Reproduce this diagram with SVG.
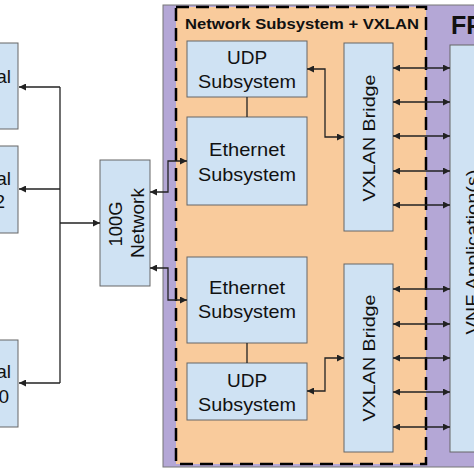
<svg xmlns="http://www.w3.org/2000/svg" width="474" height="474" viewBox="0 0 474 474">
<defs>
<marker id="ah" viewBox="0 0 10 10" refX="10" refY="5" markerWidth="7" markerHeight="7" orient="auto-start-reverse" markerUnits="userSpaceOnUse">
<path d="M0,0 L10,5 L0,10 z" fill="#222"/>
</marker>
<style>
.blue{fill:#cfe2f3;stroke:#666;stroke-width:1}
.t{font-family:"Liberation Sans",Arial,sans-serif;fill:#111;text-anchor:middle}
.c{fill:none;stroke:#222;stroke-width:1.3}
.a{marker-end:url(#ah)}
.b{marker-start:url(#ah);marker-end:url(#ah)}
</style>
</defs>
<rect width="474" height="474" fill="#fff"/>
<g id="fpga">
<rect x="163" y="5" width="330" height="462" fill="#b4a7d6" stroke="#777" stroke-width="1"/>
<text x="451" y="34" font-family="Liberation Sans,Arial,sans-serif" font-weight="bold" font-size="25" fill="#111">FPGA</text>
</g>
<g id="network-subsystem">
<rect x="176" y="7" width="250" height="457" fill="#f9cb9c" stroke="#000" stroke-width="2.5" stroke-dasharray="13,7"/>
<text x="185" y="29" font-family="Liberation Sans,Arial,sans-serif" font-weight="bold" font-size="15.5" fill="#111" textLength="234" lengthAdjust="spacingAndGlyphs">Network Subsystem + VXLAN</text>
</g>
<g id="vnf">
<rect class="blue" x="450" y="45" width="40" height="407"/>
<text class="t" font-size="19" transform="translate(479,252) rotate(-90)" textLength="165" lengthAdjust="spacingAndGlyphs">VNF Application(s)</text>
</g>
<g id="node1">
<rect class="blue" x="-60" y="43" width="78" height="86"/>
<text class="t" font-size="19" style="text-anchor:end" x="11" y="83">Physical</text>
</g>
<g id="node2">
<rect class="blue" x="-60" y="146" width="78" height="87"/>
<text class="t" font-size="19" style="text-anchor:end" x="11" y="185">Physical</text>
<text class="t" font-size="19" style="text-anchor:end" x="5" y="208">Node 2</text>
</g>
<g id="node10">
<rect class="blue" x="-60" y="340" width="78" height="87"/>
<text class="t" font-size="19" style="text-anchor:end" x="11" y="378">Physical</text>
<text class="t" font-size="19" style="text-anchor:end" x="9" y="403">Node 10</text>
</g>
<g id="network100g">
<rect class="blue" x="100" y="160" width="50" height="126"/>
<text class="t" font-size="19" transform="translate(122,224) rotate(-90)" textLength="45" lengthAdjust="spacingAndGlyphs">100G</text>
<text class="t" font-size="19" transform="translate(144,223) rotate(-90)" textLength="70" lengthAdjust="spacingAndGlyphs">Network</text>
</g>
<g id="udp1">
<rect class="blue" x="187" y="41" width="120" height="56"/>
<text class="t" font-size="19" x="247" y="64">UDP</text>
<text class="t" font-size="19" x="247" y="88" textLength="98" lengthAdjust="spacingAndGlyphs">Subsystem</text>
</g>
<g id="eth1">
<rect class="blue" x="187" y="117" width="120" height="88"/>
<text class="t" font-size="19" x="247" y="156" textLength="76" lengthAdjust="spacingAndGlyphs">Ethernet</text>
<text class="t" font-size="19" x="247" y="181" textLength="98" lengthAdjust="spacingAndGlyphs">Subsystem</text>
</g>
<g id="eth2">
<rect class="blue" x="187" y="257" width="120" height="86"/>
<text class="t" font-size="19" x="247" y="294" textLength="76" lengthAdjust="spacingAndGlyphs">Ethernet</text>
<text class="t" font-size="19" x="247" y="318" textLength="98" lengthAdjust="spacingAndGlyphs">Subsystem</text>
</g>
<g id="udp2">
<rect class="blue" x="187" y="363" width="120" height="57"/>
<text class="t" font-size="19" x="247" y="387">UDP</text>
<text class="t" font-size="19" x="247" y="411" textLength="98" lengthAdjust="spacingAndGlyphs">Subsystem</text>
</g>
<g id="vxlan1">
<rect class="blue" x="344" y="43" width="49" height="188"/>
<text class="t" font-size="17" transform="translate(375,138) rotate(-90)" textLength="127" lengthAdjust="spacingAndGlyphs">VXLAN Bridge</text>
</g>
<g id="vxlan2">
<rect class="blue" x="344" y="264" width="49" height="188"/>
<text class="t" font-size="17" transform="translate(375,358) rotate(-90)" textLength="127" lengthAdjust="spacingAndGlyphs">VXLAN Bridge</text>
</g>
<g id="connectors">
<path class="c" d="M247,97 V117 M247,343 V363" stroke="#6b5a4a"/>
<path class="c" d="M60,87 V383"/>
<path class="c a" d="M60,87 H19"/>
<path class="c a" d="M60,189 H19"/>
<path class="c a" d="M60,383 H19"/>
<path class="c a" d="M60,223 H100"/>
<path class="c b" d="M150,192 H168 V161 H187"/>
<path class="c b" d="M150,268 H168 V300 H187"/>
<path class="c b" d="M307,69 H325 V137 H344"/>
<path class="c b" d="M307,391 H325 V358 H344"/>
<path class="c b" d="M393,68 H450"/>
<path class="c b" d="M393,102 H450"/>
<path class="c b" d="M393,136 H450"/>
<path class="c b" d="M393,171 H450"/>
<path class="c b" d="M393,205 H450"/>
<path class="c b" d="M393,289 H450"/>
<path class="c b" d="M393,324 H450"/>
<path class="c b" d="M393,358 H450"/>
<path class="c b" d="M393,392 H450"/>
<path class="c b" d="M393,427 H450"/>
</g>
</svg>
